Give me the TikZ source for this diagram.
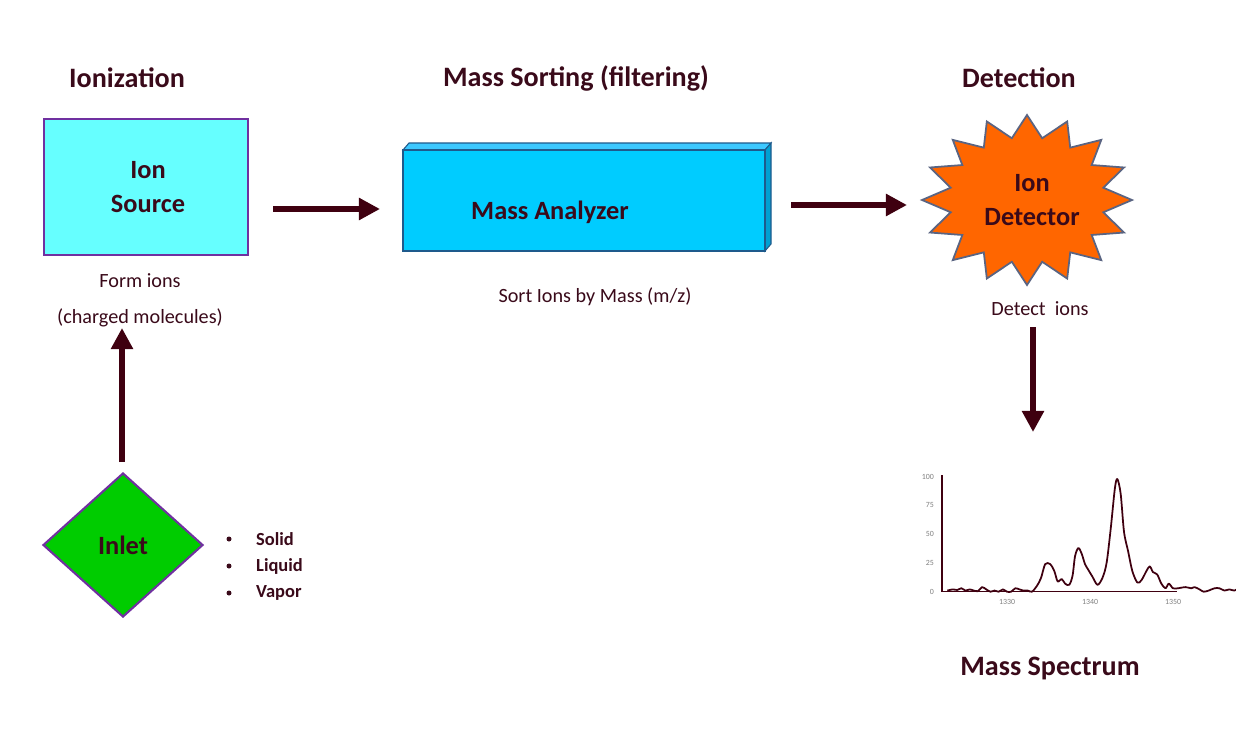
\documentclass[tikz,border=0pt]{standalone}
\usepackage{fontspec}
\setmainfont{Carlito}
\usetikzlibrary{shapes.geometric,arrows.meta}
\definecolor{mar}{HTML}{3F0010}
\definecolor{txt}{HTML}{3A0A1A}
\definecolor{purp}{HTML}{7030A0}
\definecolor{cyanbox}{RGB}{102,255,255}
\definecolor{matop}{RGB}{60,200,255}
\definecolor{maside}{RGB}{0,160,210}
\definecolor{maedge}{RGB}{30,90,140}
\definecolor{mafront}{RGB}{0,204,255}
\definecolor{orng}{RGB}{255,102,0}
\definecolor{staredge}{RGB}{90,100,130}
\definecolor{grn}{RGB}{0,204,0}
\begin{document}
\begin{tikzpicture}[x=0.02cm,y=-0.02cm,
  title/.style={font=\fontsize{16}{18}\selectfont\bfseries,text=txt},
  lbl/.style={font=\fontsize{11.5}{14}\selectfont,text=txt},
  big/.style={font=\fontsize{15}{17}\selectfont\bfseries,text=txt,align=center},
  arr/.style={-{Triangle[length=12pt,width=12pt]},line width=3pt,draw=mar},
  tick/.style={font=\fontsize{4.5}{5}\selectfont,text=gray}]
\useasboundingbox (0,0) rectangle (1236,730);
\fill[white] (0,0) rectangle (1236,730);
% titles
\node[title] (t1) at (127,78) {Ionization};
\node[title] (t2) at (576,78) {Mass Sorting (filtering)};
\node[title] (t3) at (1019,78) {Detection};
\node[title] (t4) at (1050,668) {Mass Spectrum};
% ion source
\node[draw=purp,line width=1.2pt,fill=cyanbox,minimum width=204*0.02cm,minimum height=136*0.02cm] (src) at (146,187) {};
\node[big] (srct) at (148,187) {Ion\\[2pt]Source};
% mass analyzer
\filldraw[fill=matop,draw=maedge,line width=0.6pt] (403,150) -- (409,143) -- (771,143) -- (765,150) -- cycle;
\filldraw[fill=maside,draw=maedge,line width=0.6pt] (765,150) -- (771,143) -- (771,244) -- (765,251) -- cycle;
\node[draw=maedge,line width=0.8pt,fill=mafront,minimum width=362*0.02cm,minimum height=101*0.02cm] (ma) at (584,200.5) {};
\node[big] (mat) at (550,212) {Mass Analyzer};
% detector
\node[star,star points=16,star point ratio=1.35,fill=orng,draw=staredge,line width=1pt,minimum size=200*0.02cm,xscale=1.05,yscale=0.85] (det) at (1027,200) {};
\node[big] (dett) at (1032,200) {Ion\\[2pt]Detector};
% inlet
\node[diamond,draw=purp,line width=1.2pt,fill=grn,minimum width=160*0.02cm,minimum height=144*0.02cm,inner sep=0] (inl) at (123,545) {};
\node[big] (inlt) at (123,545) {Inlet};
% labels
\node[lbl] (l1) at (140,281) {Form ions};
\node[lbl] (l2) at (140,318) {(charged molecules)};
\node[lbl] (l3) at (595,297) {Sort Ions by Mass (m/z)};
\node[lbl] (l4) at (1040,309) {Detect\ \ ions};
\foreach \t/\y in {Solid/539,Liquid/566,Vapor/593}{
  \fill[txt] (229,\y) circle (2.5);
  \node[font=\fontsize{10.5}{12}\selectfont\bfseries,text=txt,anchor=west] at (250,\y) {\t};
}
% arrows
\coordinate (a1s) at (273,209); \coordinate (a1e) at (380,209);
\draw[arr] (a1s) -- (a1e);
\coordinate (a2s) at (791,205); \coordinate (a2e) at (907,205);
\draw[arr] (a2s) -- (a2e);
\coordinate (a3s) at (122,462); \coordinate (a3e) at (122,328);
\draw[arr] (a3s) -- (a3e);
\coordinate (a4s) at (1033,327); \coordinate (a4e) at (1033,432);
\draw[arr] (a4s) -- (a4e);
% spectrum
\draw[mar,line width=0.8pt] (942,475) -- (942,591.7) -- (1177,591.7);
\foreach \v/\y in {0/591.7,25/563,50/534,75/505,100/476.7}
  \node[tick,anchor=east] at (940,\y) {\v};
\foreach \v/\x in {1330/1007,1340/1090,1350/1173}
  \node[tick] at (\x,602) {\v};
\begin{scope}[shift={(1007,591.7)},x=0.166cm,y=0.023cm]
\draw[mar,line width=1pt,line join=round] plot[smooth,tension=0.5] coordinates {
(-7.2,1)(-6.5,2)(-6,1.5)(-5.5,3)(-5,1)(-4.5,2)(-4,1)(-3.5,0.5)(-3,4)(-2.5,2)(-2,0)(-1.5,1)(-1,0)(-0.5,2)(0,0)(0.5,0)(1,3)(1.5,2)(2,1)(2.5,1)(3,0)
(3.6,5)(4.1,12)(4.6,24)(5.2,24)(5.7,18)(6.1,9)(6.6,11)(7,7)(7.5,6)(7.9,14)(8.2,31)(8.6,38)(9,33)(9.4,24)(9.8,19)(10.3,13)(10.9,6)(11.5,12)(12,25)(12.5,55)(13,90)(13.3,98)(13.7,85)(14.1,52)(14.6,35)(15.1,18)(15.7,8)(16.2,10)(16.8,18)(17.2,22)(17.6,17)(18.1,15)(18.6,7)(19.1,3)(19.5,7)(20,3)(20.6,3)(21.5,4)(22.2,3)(22.6,4)(23.2,2)(23.7,0)(24.3,1)(25,3)(25.6,3)(26.2,1)(26.8,2)(27.4,1)(28,3)(28.6,1)(29.2,2)(29.8,2)(30.4,3)
};
\end{scope}
\end{tikzpicture}
\end{document}
